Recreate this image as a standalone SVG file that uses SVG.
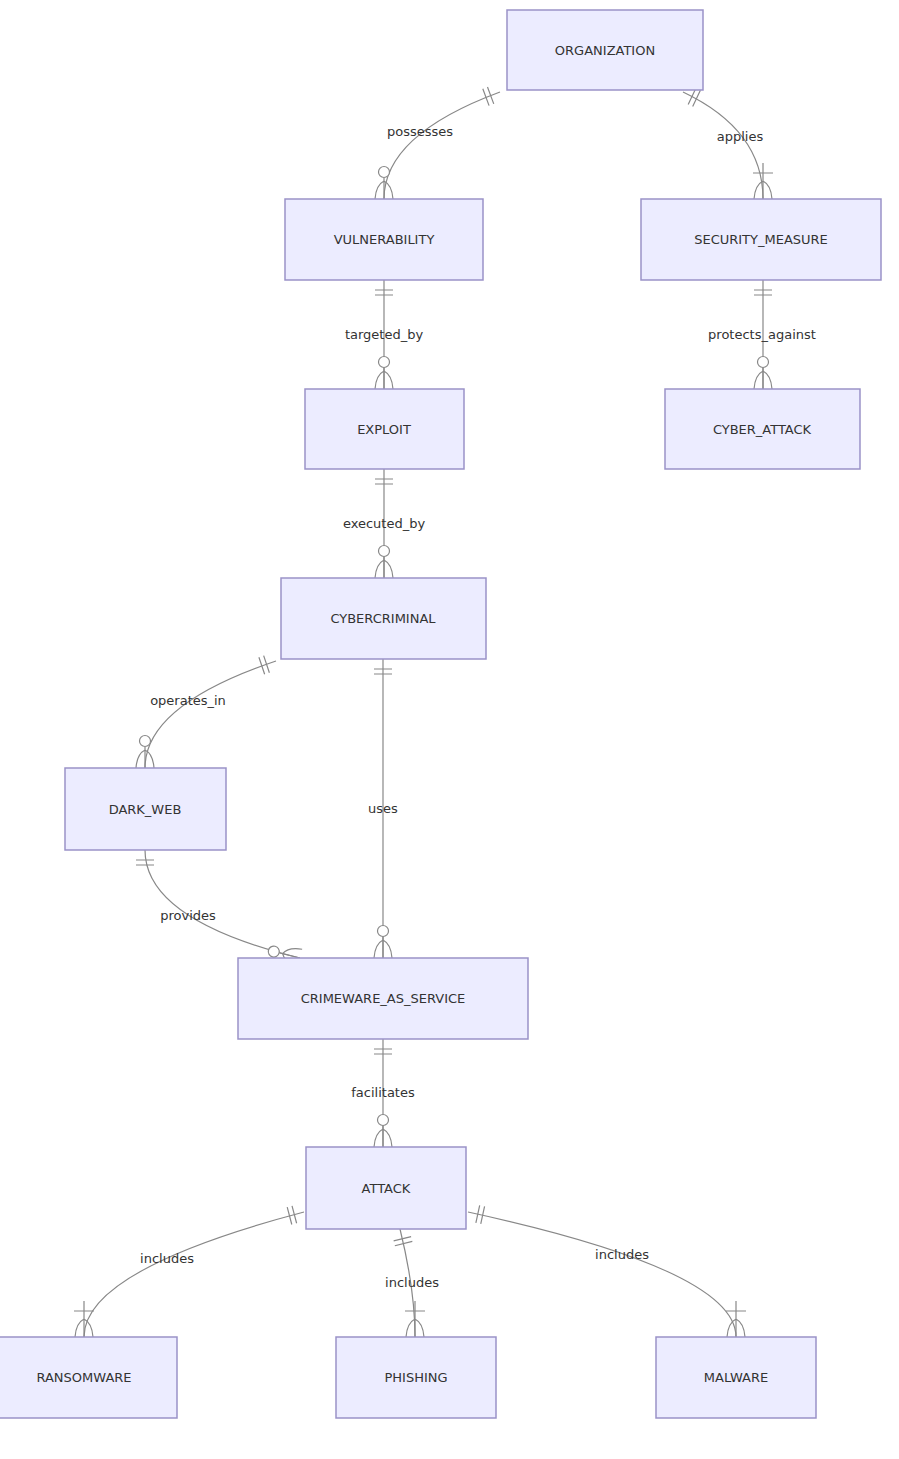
<svg xmlns="http://www.w3.org/2000/svg" width="899" height="1459" viewBox="0 0 899 1459">
<style>
.n rect{fill:#ECECFF;stroke:#9A92C8;stroke-width:1.5}
.n text{font-family:"DejaVu Sans",sans-serif;font-size:13px;fill:#333;text-anchor:middle;dominant-baseline:central}
.c path{fill:none;stroke:#888;stroke-width:1.2}
.l{font-family:"DejaVu Sans",sans-serif;font-size:13px;fill:#333;text-anchor:middle;dominant-baseline:central}
.m{fill:none;stroke:#888;stroke-width:1.2}
</style>
<defs>
<marker id="one" markerUnits="userSpaceOnUse" markerWidth="24" markerHeight="24" refX="0" refY="12" orient="auto" overflow="visible"><path class="m" d="M10,3 L10,21 M15,3 L15,21"/></marker>
<marker id="zm" markerUnits="userSpaceOnUse" markerWidth="40" markerHeight="24" refX="36" refY="12" orient="auto" overflow="visible"><circle cx="9" cy="12" r="5.5" fill="#fff" stroke="#888" stroke-width="1.2"/><path class="m" d="M36,3 Q22,4 18,12 Q22,20 36,21 M15,12 L36,12"/></marker>
<marker id="om" markerUnits="userSpaceOnUse" markerWidth="40" markerHeight="24" refX="36" refY="12" orient="auto" overflow="visible"><path class="m" d="M10,2 L10,22 M36,3 Q22,4 18,12 Q22,20 36,21 M0,12 L36,12"/></marker>
</defs>
<g class="c">
<path d="M500,92 Q384,135 384,199" marker-start="url(#one)" marker-end="url(#zm)"/>
<path d="M683,92 Q763,130 763,199" marker-start="url(#one)" marker-end="url(#om)"/>
<path d="M384,280 L384,389" marker-start="url(#one)" marker-end="url(#zm)"/>
<path d="M763,280 L763,389" marker-start="url(#one)" marker-end="url(#zm)"/>
<path d="M384,469 L384,578" marker-start="url(#one)" marker-end="url(#zm)"/>
<path d="M276,661 Q145,705 145,768" marker-start="url(#one)" marker-end="url(#zm)"/>
<path d="M383,659 L383,958" marker-start="url(#one)" marker-end="url(#zm)"/>
<path d="M145,850 Q145,920 300,958" marker-start="url(#one)" marker-end="url(#zm)"/>
<path d="M383,1039 L383,1147" marker-start="url(#one)" marker-end="url(#zm)"/>
<path d="M304,1212 Q84,1270 84,1337" marker-start="url(#one)" marker-end="url(#om)"/>
<path d="M400,1229 Q415,1290 415,1337" marker-start="url(#one)" marker-end="url(#om)"/>
<path d="M468,1212 Q736,1270 736,1337" marker-start="url(#one)" marker-end="url(#om)"/>
</g>
<g id="labels">
<text class="l" x="420" y="131">possesses</text>
<text class="l" x="740" y="136">applies</text>
<text class="l" x="384" y="334">targeted_by</text>
<text class="l" x="762" y="334">protects_against</text>
<text class="l" x="384" y="523">executed_by</text>
<text class="l" x="188" y="700">operates_in</text>
<text class="l" x="383" y="808">uses</text>
<text class="l" x="188" y="915">provides</text>
<text class="l" x="383" y="1092">facilitates</text>
<text class="l" x="167" y="1258">includes</text>
<text class="l" x="412" y="1282">includes</text>
<text class="l" x="622" y="1254">includes</text>
</g>
<g id="ORGANIZATION" class="n"><rect x="507" y="10" width="196" height="80"/><text x="605" y="50">ORGANIZATION</text></g>
<g id="VULNERABILITY" class="n"><rect x="285" y="199" width="198" height="81"/><text x="384" y="239">VULNERABILITY</text></g>
<g id="SECURITY_MEASURE" class="n"><rect x="641" y="199" width="240" height="81"/><text x="761" y="239">SECURITY_MEASURE</text></g>
<g id="EXPLOIT" class="n"><rect x="305" y="389" width="159" height="80"/><text x="384" y="429">EXPLOIT</text></g>
<g id="CYBER_ATTACK" class="n"><rect x="665" y="389" width="195" height="80"/><text x="762" y="429">CYBER_ATTACK</text></g>
<g id="CYBERCRIMINAL" class="n"><rect x="281" y="578" width="205" height="81"/><text x="383" y="618">CYBERCRIMINAL</text></g>
<g id="DARK_WEB" class="n"><rect x="65" y="768" width="161" height="82"/><text x="145" y="809">DARK_WEB</text></g>
<g id="CRIMEWARE_AS_SERVICE" class="n"><rect x="238" y="958" width="290" height="81"/><text x="383" y="998">CRIMEWARE_AS_SERVICE</text></g>
<g id="ATTACK" class="n"><rect x="306" y="1147" width="160" height="82"/><text x="386" y="1188">ATTACK</text></g>
<g id="RANSOMWARE" class="n"><rect x="-1" y="1337" width="178" height="81"/><text x="84" y="1377">RANSOMWARE</text></g>
<g id="PHISHING" class="n"><rect x="336" y="1337" width="160" height="81"/><text x="416" y="1377">PHISHING</text></g>
<g id="MALWARE" class="n"><rect x="656" y="1337" width="160" height="81"/><text x="736" y="1377">MALWARE</text></g>
</svg>
